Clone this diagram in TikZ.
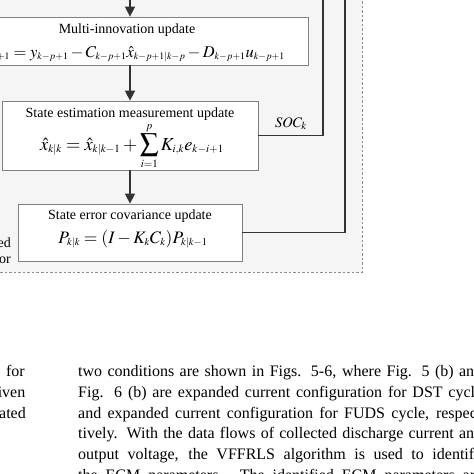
\documentclass[tikz,border=0pt]{standalone}
\usepackage{mathptmx}
\usepackage{fontspec}
\setmainfont{Liberation Serif}
\DeclareMathSizes{17.5}{17.5}{10.5}{8}
\usetikzlibrary{arrows.meta,shadows}
\begin{document}
\begin{tikzpicture}[x=1pt,y=-1pt,
  box/.style={draw=black!50,line width=0.8pt,fill=white,drop shadow={shadow xshift=1.2pt,shadow yshift=-1.2pt,opacity=0.3,fill=black!60},inner sep=0pt},
  ttl/.style={font=\rmfamily\fontsize{14}{16}\selectfont,inner sep=0pt,anchor=base},
  eqn/.style={font=\rmfamily\fontsize{17.5}{20}\selectfont,inner sep=0pt,anchor=base},
  conn/.style={draw=black!80,line width=1.6pt},
  arr/.style={conn,-{Triangle[width=10pt,length=10pt]}},
  body/.style={font=\rmfamily\fontsize{16}{19}\selectfont,inner sep=0pt,anchor=base west},
  bodyr/.style={font=\rmfamily\fontsize{16}{19}\selectfont,inner sep=0pt,anchor=base east}]
\useasboundingbox (0,0) rectangle (474,474);
\clip (0,0) rectangle (474,474);
\fill[white] (0,0) rectangle (474,474);
% dashed frame
\path[fill=black!4,draw=black!45,dashed,dash pattern=on 2.5pt off 2pt,line width=0.8pt] (-10,-10) rectangle (362,272);
% boxes
\node[box,minimum width=356pt,minimum height=48pt] (b1) at (130,41) {};
\node[box,minimum width=256pt,minimum height=69pt] (b2) at (130,135.5) {};
\node[box,minimum width=224pt,minimum height=57pt] (b3) at (130,232.5) {};
% texts
\node[ttl] (t1) at (127,33) {Multi-innovation update};
\node[eqn,anchor=base east] (e1) at (285,57) {\scalebox{0.94}{$e_{k-p+1}=y_{k-p+1}-C_{k-p+1}\hat{x}_{k-p+1|k-p}-D_{k-p+1}u_{k-p+1}$}};
\node[ttl] (t2) at (130,117) {State estimation measurement update};
\node[eqn] (e2) at (132,150) {\scalebox{1.05}{$\displaystyle \hat{x}_{k|k}=\hat{x}_{k|k-1}+\sum_{i=1}^{p}K_{i,k}e_{k-i+1}$}};
\node[ttl] (t3) at (130,219) {State error covariance update};
\node[eqn] (e3) at (133,243) {$P_{k|k}=(I-K_kC_k)P_{k|k-1}$};
\node[font=\fontsize{14.5}{16}\selectfont,inner sep=0pt,anchor=base] (soc) at (291,127) {$SOC_k$};
\node[ttl,anchor=base east] (l1) at (11,247) {updated};
\node[ttl,anchor=base east] (l2) at (11,263) {estimator};
% connectors
\coordinate (c0) at (130,-2);
\coordinate (c1) at (323,-2);
\coordinate (c2) at (345,-2);
\draw[arr] (c0) -- (b1.north);
\draw[arr] (b1.south) -- (b2.north);
\draw[arr] (b2.south) -- (b3.north);
\draw[conn] (b2.east) -| (c1);
\draw[conn] (c2) |- (b3.east);
% body text
\node[bodyr] (p1) at (25,376) {for};
\node[bodyr] (p2) at (25.5,397) {given};
\node[bodyr] (p3) at (26,418) {estimated};
\node[body] (q1) at (78,376) {\makebox[404pt][s]{two conditions are shown in Figs. 5-6, where Fig. 5 (b) and}};
\node[body] (q2) at (78,397) {\makebox[404pt][s]{Fig. 6 (b) are expanded current configuration for DST cycle}};
\node[body] (q3) at (78,418) {\makebox[404pt][s]{and expanded current configuration for FUDS cycle, respec-}};
\node[body] (q4) at (78,438.5) {\makebox[404pt][s]{tively. With the data flows of collected discharge current and}};
\node[body] (q5) at (78,459) {\makebox[404pt][s]{output voltage, the VFFRLS algorithm is used to identify}};
\node[body] (q6) at (78,480) {\makebox[404pt][s]{the ECM parameters. The identified ECM parameters are}};
\end{tikzpicture}
\end{document}
